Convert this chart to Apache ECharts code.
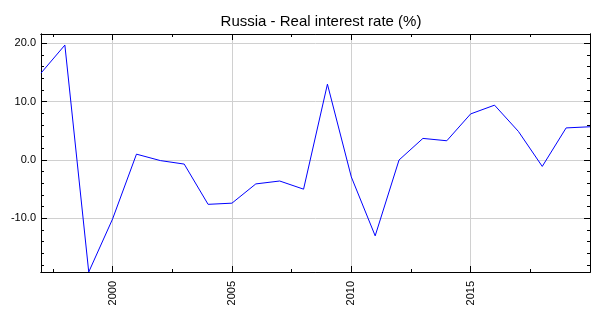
<!DOCTYPE html>
<html>
<head>
<meta charset="utf-8">
<script src="https://cdn.jsdelivr.net/npm/echarts@6/dist/echarts.min.js"></script>
<style>html,body{margin:0;padding:0;background:#fff}#c{width:600px;height:315px}</style>
</head>
<body>
<div id="c"></div>
<script>
var years = [1997,1998,1999,2000,2001,2002,2003,2004,2005,2006,2007,2008,2009,2010,2011,2012,2013,2014,2015,2016,2017,2018,2019,2020];
var rate = [14.9,19.7,-19.2,-10.1,1.0,-0.1,-0.7,-7.6,-7.4,-4.1,-3.6,-5.0,13.0,-2.9,-13.0,0.0,3.7,3.3,7.9,9.4,4.9,-1.1,5.5,5.7];
var xMajor = [2000,2005,2010,2015];
var xMinor = [1997.5,2002.5,2007.5,2012.5,2017.5];
var yMajor = [-10,0,10,20];
var yMinor = [-18,-16,-14,-12,-8,-6,-4,-2,2,4,6,8,12,14,16,18];
var titleText = 'Russia - Real interest rate (%)';

var X_MIN = 1997, X_MAX = 2020, Y_MIN = -19.2, Y_MAX = 21.6;
var font = 'Liberation Sans, Arial, sans-serif';
var axisLine = {show:true, onZero:false, lineStyle:{color:'#000', width:1}};
function xAx(pos, ticks, len, opts){
  var a = {type:'value', position:pos, min:X_MIN, max:X_MAX,
    axisLine: axisLine,
    axisTick:{show:true, inside:true, length:len, customValues:ticks, lineStyle:{color:'#000'}},
    axisLabel:{show:false, customValues:ticks},
    splitLine:{show:false}};
  return Object.assign(a, opts||{});
}
function yAx(pos, ticks, len, opts){
  var a = {type:'value', position:pos, min:Y_MIN, max:Y_MAX,
    axisLine: axisLine,
    axisTick:{show:true, inside:true, length:len, customValues:ticks, lineStyle:{color:'#000'}},
    axisLabel:{show:false, customValues:ticks},
    splitLine:{show:false}};
  return Object.assign(a, opts||{});
}
var chart = echarts.init(document.getElementById('c'), null, {renderer:'canvas'});
chart.setOption({
  animation:false,
  backgroundColor:'#fff',
  title:{text:titleText, left:316, top:9, textAlign:'center',
    textStyle:{fontFamily:font, fontSize:15, fontWeight:'normal', color:'#000'}},
  grid:{left:41, right:10, top:34, bottom:43, containLabel:false},
  xAxis:[
    xAx('bottom', xMajor, 6, {
      axisLabel:{show:true, customValues:xMajor, rotate:90, margin:9, fontFamily:font, fontSize:11, color:'#000',
        formatter:function(v){return String(v);}},
      splitLine:{show:true, lineStyle:{color:'#d0d0d0', width:1}}}),
    xAx('bottom', xMinor, 3),
    xAx('top', xMajor, 6),
    xAx('top', xMinor, 3)
  ],
  yAxis:[
    yAx('left', yMajor, 6, {
      axisLabel:{show:true, customValues:yMajor, margin:5, fontFamily:font, fontSize:11, color:'#000',
        formatter:function(v){return v.toFixed(1);}},
      splitLine:{show:true, lineStyle:{color:'#d0d0d0', width:1}}}),
    yAx('left', yMinor, 3),
    yAx('right', yMajor, 6),
    yAx('right', yMinor, 3)
  ],
  series:[{
    type:'line', xAxisIndex:0, yAxisIndex:0,
    data: years.map(function(y,i){return [y, rate[i]];}),
    showSymbol:false, symbol:'none',
    lineStyle:{color:'#0000ff', width:1},
    clip:true
  }]
});
</script>
</body>
</html>
